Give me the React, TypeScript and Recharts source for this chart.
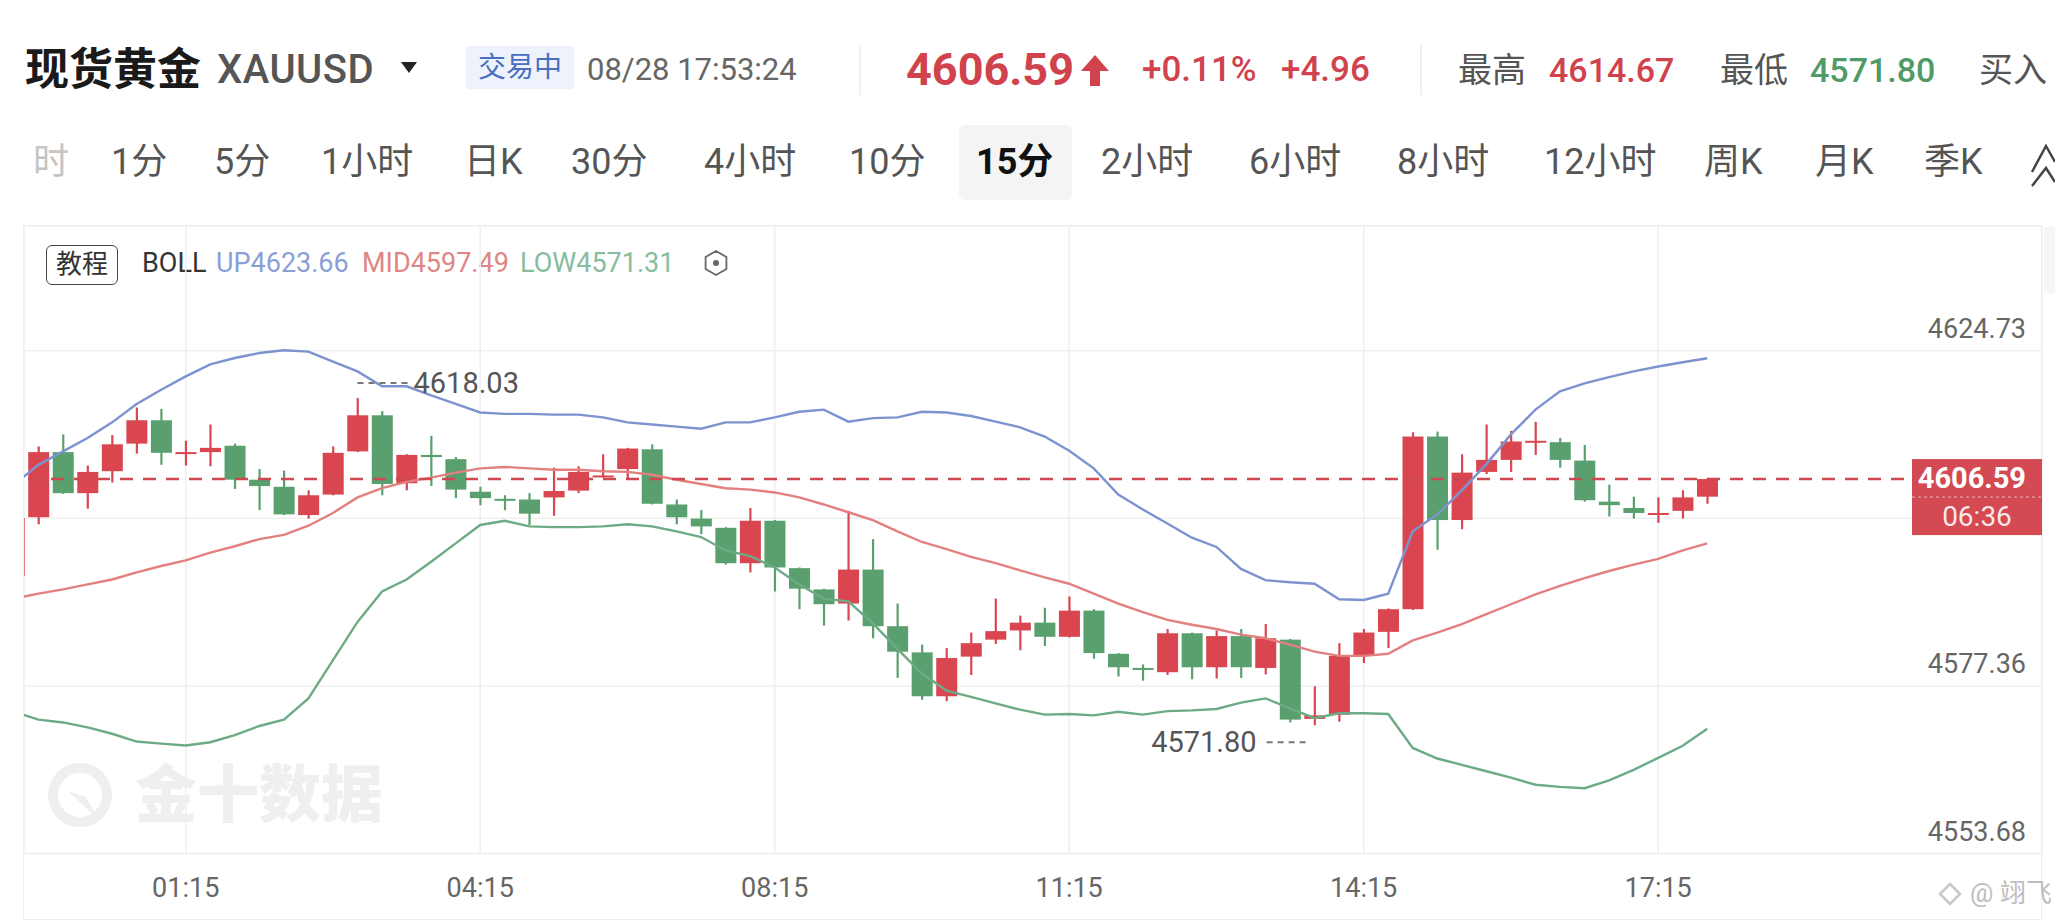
import React from 'react';
import {
  ComposedChart,
  Bar,
  Line,
  XAxis,
  YAxis,
  CartesianGrid,
  ReferenceLine,
  ReferenceDot,
} from 'recharts';

// 15 min candles, 23:30 (cut at the left edge) to 17:45
const times = [
  '23:30', '23:45', '00:00', '00:15', '00:30', '00:45', '01:00', '01:15', '01:30', '01:45',
  '02:00', '02:15', '02:30', '02:45', '03:00', '03:15', '03:30', '03:45', '04:00', '04:15',
  '04:30', '04:45', '06:00', '06:15', '06:30', '06:45', '07:00', '07:15', '07:30', '07:45',
  '08:00', '08:15', '08:30', '08:45', '09:00', '09:15', '09:30', '09:45', '10:00', '10:15',
  '10:30', '10:45', '11:00', '11:15', '11:30', '11:45', '12:00', '12:15', '12:30', '12:45',
  '13:00', '13:15', '13:30', '13:45', '14:00', '14:15', '14:30', '14:45', '15:00', '15:15',
  '15:30', '15:45', '16:00', '16:15', '16:30', '16:45', '17:00', '17:15', '17:30', '17:45',
];

const opens = [
  4592.9, 4601.2, 4610.4, 4604.6, 4607.7, 4611.6, 4614.9, 4610.3, 4610.4, 4611.3,
  4606.5, 4605.5, 4601.5, 4604.4, 4610.5, 4615.6, 4606.0, 4610.0, 4609.4, 4604.8,
  4603.8, 4603.7, 4604.0, 4604.96, 4606.9, 4608.0, 4610.8, 4603.0, 4601.0, 4599.7,
  4594.7, 4600.7, 4594.0, 4591.0, 4589.0, 4593.8, 4585.8, 4582.1, 4575.9, 4581.5,
  4583.9, 4585.2, 4586.3, 4584.3, 4588.0, 4581.9, 4579.9, 4579.3, 4584.8, 4580.0,
  4584.4, 4579.9, 4583.9, 4572.7, 4573.3, 4581.7, 4585.0, 4588.2, 4612.6, 4600.8,
  4607.6, 4609.3, 4611.8, 4611.8, 4609.2, 4603.4, 4602.5, 4601.6, 4602.1, 4604.1,
];
const highs = [
  4601.5, 4611.2, 4612.9, 4608.5, 4612.8, 4616.7, 4616.5, 4612.0, 4614.3, 4611.6,
  4608.0, 4607.8, 4605.0, 4611.2, 4618.03, 4616.2, 4610.1, 4612.7, 4609.7, 4605.5,
  4604.3, 4604.6, 4608.2, 4608.4, 4610.1, 4611.0, 4611.5, 4603.7, 4602.2, 4599.8,
  4602.5, 4600.8, 4594.1, 4591.1, 4602.1, 4598.1, 4589.0, 4583.2, 4582.7, 4584.9,
  4589.7, 4587.3, 4588.4, 4590.0, 4588.2, 4582.0, 4580.4, 4585.4, 4584.9, 4585.2,
  4585.4, 4586.1, 4584.0, 4577.3, 4583.4, 4585.4, 4588.3, 4613.2, 4613.3, 4610.1,
  4614.3, 4613.4, 4614.67, 4612.4, 4611.4, 4605.8, 4604.1, 4604.0, 4605.0, 4606.7,
];
const lows = [
  4592.5, 4600.2, 4604.5, 4602.4, 4606.1, 4610.2, 4608.6, 4608.5, 4608.4, 4605.2,
  4602.2, 4601.5, 4601.0, 4604.3, 4610.4, 4604.3, 4605.0, 4605.6, 4603.9, 4602.9,
  4602.2, 4600.1, 4601.4, 4604.6, 4606.8, 4606.7, 4603.0, 4600.2, 4598.8, 4594.5,
  4593.4, 4590.7, 4588.2, 4585.9, 4586.6, 4584.1, 4578.5, 4575.4, 4575.2, 4578.9,
  4583.3, 4582.4, 4583.0, 4584.2, 4581.2, 4578.7, 4578.1, 4578.9, 4578.3, 4578.4,
  4578.5, 4579.0, 4572.2, 4571.8, 4572.3, 4580.6, 4582.7, 4588.1, 4596.6, 4599.5,
  4607.3, 4607.6, 4610.0, 4608.2, 4603.4, 4601.3, 4601.0, 4600.4, 4601.0, 4603.1,
];
const closes = [
  4601.1, 4610.4, 4604.6, 4607.6, 4611.5, 4614.9, 4610.3, 4610.4, 4611.0, 4606.5,
  4605.6, 4601.6, 4604.3, 4610.3, 4615.6, 4605.9, 4610.0, 4609.7, 4605.1, 4603.9,
  4603.7, 4601.7, 4604.9, 4607.6, 4607.1, 4610.9, 4603.1, 4601.2, 4599.9, 4594.7,
  4600.7, 4594.1, 4591.1, 4588.9, 4593.8, 4585.8, 4582.2, 4575.9, 4581.3, 4583.4,
  4585.1, 4586.3, 4584.3, 4588.0, 4582.0, 4580.0, 4579.7, 4584.8, 4580.0, 4584.4,
  4580.0, 4584.1, 4572.6, 4573.2, 4581.6, 4584.9, 4588.2, 4612.6, 4600.8, 4607.5,
  4609.3, 4611.9, 4612.0, 4609.3, 4603.6, 4602.9, 4601.8, 4601.8, 4604.0, 4606.59,
];

// BOLL bands
const bollUp = [
  4605.8, 4608.6, 4610.5, 4612.4, 4614.6, 4617.2, 4619.2, 4621.1, 4622.8, 4623.7,
  4624.4, 4624.8, 4624.6, 4623.2, 4621.8, 4619.7, 4619.7, 4618.4, 4617.2, 4616.0,
  4615.8, 4615.8, 4615.7, 4615.7, 4615.3, 4614.6, 4614.3, 4614.0, 4613.7, 4614.6,
  4614.6, 4615.3, 4616.1, 4616.4, 4614.7, 4615.2, 4615.3, 4616.1, 4616.0, 4615.5,
  4614.7, 4613.9, 4612.6, 4610.6, 4608.1, 4604.4, 4602.3, 4600.3, 4598.3, 4597.0,
  4593.9, 4592.3, 4592.0, 4591.8, 4589.6, 4589.5, 4590.4, 4599.2, 4601.6, 4605.0,
  4608.7, 4612.9, 4616.4, 4619.0, 4620.1, 4621.0, 4621.8, 4622.5, 4623.1, 4623.66,
];
const bollMid = [
  4589.7, 4590.4, 4591.0, 4591.7, 4592.4, 4593.4, 4594.3, 4595.1, 4596.2, 4597.1,
  4598.1, 4598.7, 4600.0, 4601.8, 4604.0, 4605.3, 4606.2, 4606.8, 4607.5, 4608.1,
  4608.3, 4608.1, 4607.9, 4607.9, 4607.7, 4607.6, 4607.2, 4606.5, 4605.9, 4605.3,
  4605.1, 4604.7, 4604.0, 4603.0, 4601.9, 4600.8, 4599.2, 4597.7, 4596.7, 4595.6,
  4594.7, 4593.7, 4592.7, 4591.8, 4590.4, 4589.0, 4587.8, 4586.7, 4586.0, 4585.4,
  4584.6, 4584.1, 4583.2, 4582.2, 4581.6, 4581.6, 4581.9, 4583.8, 4584.9, 4586.1,
  4587.5, 4588.9, 4590.3, 4591.5, 4592.6, 4593.6, 4594.5, 4595.3, 4596.5, 4597.49,
];
const bollLow = [
  4573.7, 4572.6, 4572.2, 4571.5, 4570.6, 4569.5, 4569.2, 4568.95, 4569.4, 4570.4,
  4571.7, 4572.6, 4575.6, 4581.0, 4586.4, 4590.7, 4592.4, 4594.9, 4597.5, 4600.1,
  4600.7, 4599.9, 4599.8, 4599.8, 4599.9, 4600.2, 4599.9, 4599.2, 4598.4, 4596.5,
  4595.7, 4594.1, 4591.7, 4589.7, 4589.3, 4586.2, 4582.6, 4579.1, 4576.7, 4575.8,
  4574.9, 4574.0, 4573.3, 4573.4, 4573.2, 4573.7, 4573.3, 4573.8, 4573.9, 4574.1,
  4575.0, 4575.6, 4574.2, 4572.8, 4573.5, 4573.5, 4573.4, 4568.6, 4567.1, 4566.2,
  4565.3, 4564.4, 4563.4, 4563.1, 4562.9, 4564.0, 4565.5, 4567.2, 4568.9, 4571.31,
];

const xTicks = [7, 19, 31, 43, 55, 67];
const yTicks = [4553.68, 4577.36, 4601.045, 4624.73];
const lastPrice = 4606.59;
const countdown = '06:36';
const highMark = { i: 14, value: 4618.03 };
const lowMark = { i: 53, value: 4571.8 };

const tabs = ['1分', '5分', '1小时', '日K', '30分', '4小时', '10分', '15分', '2小时', '6小时', '8小时', '12小时', '周K', '月K', '季K'];
const tabLefts = [111, 214, 321, 464, 571, 704, 849, 976, 1101, 1249, 1397, 1544, 1704, 1815, 1924];
const activeTab = '15分';

const W = 2055;
const H = 922;
const MARGIN = { top: 226, right: 13, bottom: 0, left: 24 };
const X_AXIS_H = 68.5;
const PLOT_RIGHT = W - MARGIN.right;
const PLOT_BOTTOM = H - MARGIN.bottom - X_AXIS_H;

const RED = '#d9464f';
const GREEN = '#5aa06f';
const FONT = 'Roboto, "Noto Sans CJK SC", sans-serif';

const data = times.map((t, i) => ({
  i,
  t,
  open: opens[i],
  high: highs[i],
  low: lows[i],
  close: closes[i],
  range: [lows[i], highs[i]],
  up: bollUp[i],
  mid: bollMid[i],
  dn: bollLow[i],
}));

function Candle(props: any) {
  const { x, y, width, height, payload } = props;
  if (!payload) return null;
  const { open, close, high, low } = payload;
  const color = close >= open ? RED : GREEN;
  const top = Math.min(y, y + height);
  const h = Math.abs(height);
  const k = h / (high - low || 1);
  const bodyTop = top + (high - Math.max(open, close)) * k;
  const bodyH = Math.max(Math.abs(close - open) * k, 2);
  const cx = x + width / 2;
  return (
    <g>
      <line x1={cx} x2={cx} y1={top} y2={top + h} stroke={color} strokeWidth={2.2} />
      <rect x={x} y={bodyTop} width={width} height={bodyH} fill={color} />
    </g>
  );
}

function XTick(props: any) {
  const { x, payload } = props;
  return (
    <text x={x} y={PLOT_BOTTOM + 34} textAnchor="middle" dominantBaseline="central" fill="#666" fontSize={27} fontFamily={FONT}>
      {times[payload.value]}
    </text>
  );
}

function YTick(props: any) {
  const { y, payload } = props;
  // the label under the live price tag is hidden, as in the app
  if (Math.abs(payload.value - lastPrice) < 8) return null;
  return (
    <text x={PLOT_RIGHT - 16} y={y - 22} textAnchor="end" dominantBaseline="central" fill="#666" fontSize={27} fontFamily={FONT}>
      {payload.value.toFixed(2)}
    </text>
  );
}

function PriceTag(props: any) {
  const vb = props.viewBox || {};
  const right = vb.x + vb.width;
  const w = 130;
  const top = vb.y - 20;
  return (
    <g fontFamily={FONT}>
      <rect x={right - w} y={top} width={w} height={76} fill="#d44a53" />
      <line x1={right - w} x2={right} y1={top + 38} y2={top + 38} stroke="#fff" strokeOpacity={0.6} strokeDasharray="3 3" />
      <text x={right - 16} y={top + 19} textAnchor="end" dominantBaseline="central" fill="#fff" fontSize={29} fontWeight={700}>
        {lastPrice.toFixed(2)}
      </text>
      <text x={right - w / 2} y={top + 57} textAnchor="middle" dominantBaseline="central" fill="#fff" fillOpacity={0.88} fontSize={28}>
        {countdown}
      </text>
    </g>
  );
}

function HighMark(props: any) {
  const { cx, cy } = props;
  const yy = cy - 15;
  return (
    <g>
      <line x1={cx} x2={cx + 52} y1={yy} y2={yy} stroke="#777" strokeWidth={2} strokeDasharray="6 5" />
      <text x={cx + 56} y={yy} dominantBaseline="central" fill="#555" fontSize={29} fontFamily={FONT}>
        {highMark.value.toFixed(2)}
      </text>
    </g>
  );
}

function LowMark(props: any) {
  const { cx, cy } = props;
  const yy = cy + 17;
  return (
    <g>
      <line x1={cx - 48} x2={cx - 7} y1={yy} y2={yy} stroke="#777" strokeWidth={2} strokeDasharray="6 5" />
      <text x={cx - 58} y={yy} textAnchor="end" dominantBaseline="central" fill="#555" fontSize={29} fontFamily={FONT}>
        {lowMark.value.toFixed(2)}
      </text>
    </g>
  );
}

const txt = (left: number, cy: number, fs: number, color: string, extra: any = {}) => ({
  position: 'absolute' as const,
  left,
  top: cy - fs * 0.6,
  height: fs * 1.2,
  lineHeight: `${fs * 1.2}px`,
  fontSize: fs,
  color,
  whiteSpace: 'nowrap' as const,
  ...extra,
});

export default function App() {
  const row1 = 70;
  const row2 = 163;
  const legendY = 263;
  return (
    <div style={{ position: 'absolute', left: 0, top: 0, width: W, height: H, overflow: 'hidden', background: '#fff', fontFamily: FONT }}>
      {/* header */}
      <div style={txt(25, row1, 44, '#1a1a1a', { fontWeight: 700 })}>现货黄金</div>
      <div style={txt(217, row1, 40, '#555', { fontWeight: 500, letterSpacing: 0.5 })}>XAUUSD</div>
      <svg style={{ position: 'absolute', left: 399, top: 60 }} width={20} height={16}>
        <polygon points="2,2 18,2 10,13" fill="#222" />
      </svg>
      <div style={{ position: 'absolute', left: 466, top: 46, width: 108, height: 43, background: '#edf2fc', borderRadius: 4, color: '#4b6fbf', fontSize: 28, lineHeight: '43px', textAlign: 'center' }}>交易中</div>
      <div style={txt(587, row1, 31, '#666')}>08/28 17:53:24</div>
      <div style={{ position: 'absolute', left: 859, top: 45, width: 2, height: 50, background: '#f0f0f0' }} />
      <div style={txt(906, row1, 45, '#d0434c', { fontWeight: 700 })}>4606.59</div>
      <svg style={{ position: 'absolute', left: 1080, top: 54 }} width={30} height={34}>
        <polygon points="15,1 29,17 20,17 20,32 10,32 10,17 1,17" fill="#d0434c" />
      </svg>
      <div style={txt(1142, row1, 35, '#d0434c', { fontWeight: 500 })}>+0.11%</div>
      <div style={txt(1281, row1, 35, '#d0434c', { fontWeight: 500 })}>+4.96</div>
      <div style={{ position: 'absolute', left: 1420, top: 45, width: 2, height: 50, background: '#f0f0f0' }} />
      <div style={txt(1458, row1, 34, '#555')}>最高</div>
      <div style={txt(1549, row1, 34, '#d0434c', { fontWeight: 500 })}>4614.67</div>
      <div style={txt(1720, row1, 34, '#555')}>最低</div>
      <div style={txt(1810, row1, 34, '#4f9a66', { fontWeight: 500 })}>4571.80</div>
      <div style={txt(1979, row1, 34, '#555')}>买入</div>

      {/* period tabs */}
      <div style={txt(33, row2, 36, '#c4c4c4')}>时</div>
      <div style={{ position: 'absolute', left: 959, top: 125, width: 113, height: 75, background: '#f4f4f4', borderRadius: 6 }} />
      {tabs.map((t, k) => (
        <div key={t} style={txt(tabLefts[k], row2, 36, t === activeTab ? '#111' : '#555', { fontWeight: t === activeTab ? 700 : 400 })}>
          {t}
        </div>
      ))}
      <svg style={{ position: 'absolute', left: 2028, top: 138 }} width={27} height={50}>
        <path d="M4 34 L18 8 L27 24" fill="none" stroke="#444" strokeWidth={2.5} />
        <path d="M4 48 L18 30 L27 44" fill="none" stroke="#444" strokeWidth={2.5} />
      </svg>

      {/* chart frame */}
      <div style={{ position: 'absolute', left: 23, top: 225, width: PLOT_RIGHT - 23, height: 920 - 225, border: '1.5px solid #ececec', boxSizing: 'border-box' }} />
      <div style={{ position: 'absolute', left: 2044, top: 227, width: 11, height: 66, background: '#f5f5f5' }} />

      {/* watermark */}
      <svg style={{ position: 'absolute', left: 46, top: 761 }} width={72} height={70}>
        <circle cx={34} cy={34} r={27} fill="none" stroke="#efefef" strokeWidth={10} />
        <polygon points="22,30 52,58 40,36" fill="#efefef" />
      </svg>
      <div style={txt(135, 796, 62, '#efefef', { fontWeight: 900 })}>金十数据</div>

      {/* legend */}
      <div style={{ position: 'absolute', left: 46, top: 245, width: 72, height: 40, border: '1.5px solid #444', borderRadius: 6, boxSizing: 'border-box', fontSize: 26, lineHeight: '37px', textAlign: 'center', color: '#333' }}>教程</div>
      <div style={txt(142, legendY, 27, '#333')}>BOLL</div>
      <div style={txt(216, legendY, 27, '#8a9fd6')}>UP4623.66</div>
      <div style={txt(362, legendY, 27, '#e08585')}>MID4597.49</div>
      <div style={txt(520, legendY, 27, '#86bd9e')}>LOW4571.31</div>
      <svg style={{ position: 'absolute', left: 702, top: 249 }} width={28} height={28}>
        <polygon points="14,2 24.4,8 24.4,20 14,26 3.6,20 3.6,8" fill="none" stroke="#666" strokeWidth={1.8} />
        <circle cx={14} cy={14} r={3} fill="#666" />
      </svg>

      {/* bottom-right credit */}
      <svg style={{ position: 'absolute', left: 1938, top: 882 }} width={24} height={24}>
        <polygon points="12,2 22,12 12,22 2,12" fill="none" stroke="#c8c8c8" strokeWidth={2.5} />
      </svg>
      <div style={txt(1970, 894, 26, '#bdbdbd')}>@ 翊飞</div>

      <div style={{ position: 'absolute', left: 0, top: 0 }}>
        <ComposedChart width={W} height={H} data={data} margin={MARGIN}>
          <CartesianGrid stroke="#efefef" strokeWidth={1.5} />
          <XAxis
            dataKey="i"
            type="number"
            domain={[0.41, 82.64]}
            allowDataOverflow
            ticks={xTicks}
            interval={0}
            height={X_AXIS_H}
            axisLine={false}
            tickLine={false}
            tickSize={0}
            tick={<XTick />}
          />
          <YAxis
            orientation="right"
            mirror
            domain={[4553.68, 4642.35]}
            allowDataOverflow
            ticks={yTicks}
            interval={0}
            axisLine={false}
            tickLine={false}
            tickSize={0}
            tick={<YTick />}
          />
          <Bar dataKey="range" barSize={21} shape={<Candle />} isAnimationActive={false} />
          <Line type="linear" dataKey="up" stroke="#7d93cf" strokeWidth={2.4} dot={false} activeDot={false} isAnimationActive={false} />
          <Line type="linear" dataKey="mid" stroke="#e2807f" strokeWidth={2.4} dot={false} activeDot={false} isAnimationActive={false} />
          <Line type="linear" dataKey="dn" stroke="#6cab85" strokeWidth={2.4} dot={false} activeDot={false} isAnimationActive={false} />
          <ReferenceLine
            y={lastPrice}
            stroke="#cf4750"
            strokeWidth={2.5}
            strokeDasharray="13 10"
            label={(p: any) => <PriceTag {...p} />}
          />
          <ReferenceDot x={highMark.i} y={highMark.value} r={0} shape={(p: any) => <HighMark {...p} />} />
          <ReferenceDot x={lowMark.i} y={lowMark.value} r={0} shape={(p: any) => <LowMark {...p} />} />
        </ComposedChart>
      </div>
    </div>
  );
}
